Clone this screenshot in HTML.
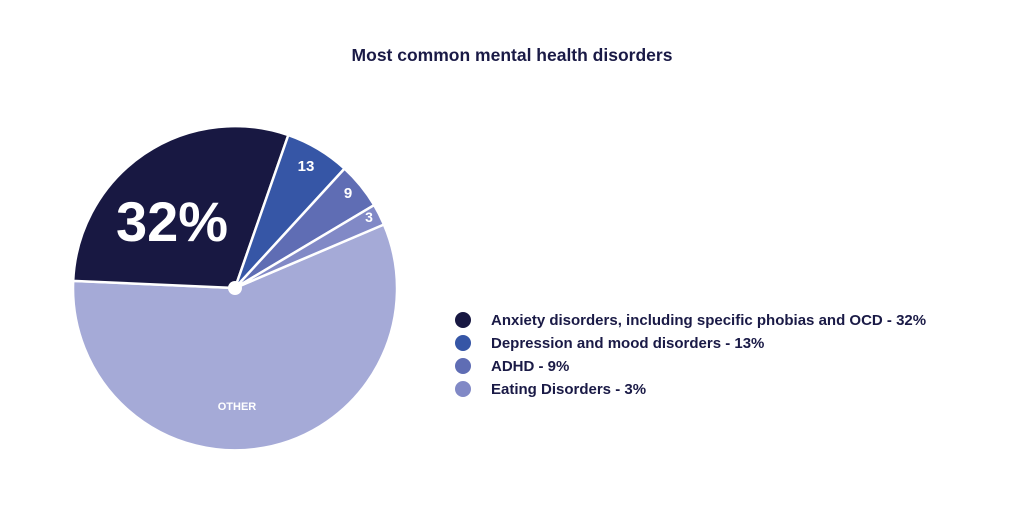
<!DOCTYPE html>
<html><head><style>
body{margin:0;width:1024px;height:518px;background:#fff;font-family:"Liberation Sans",sans-serif;overflow:hidden}
</style></head><body>
<svg width="1024" height="518" xmlns="http://www.w3.org/2000/svg">
<text x="512" y="61" text-anchor="middle" font-size="17.5" font-weight="bold" fill="#1a1a46">Most common mental health disorders</text>
<g stroke="#fff" stroke-width="2.5" stroke-linejoin="round">
<path d="M235,288 L383.9,224.5 A162,162 0 1 1 73.2,280.9 Z" fill="#a5aad7"/>
<path d="M235,288 L73.2,280.9 A162,162 0 0 1 288.3,135.1 Z" fill="#181842"/>
<path d="M235,288 L288.3,135.1 A162,162 0 0 1 344.5,168.6 Z" fill="#3656a6"/>
<path d="M235,288 L344.5,168.6 A162,162 0 0 1 374.2,205.1 Z" fill="#5f6db4"/>
<path d="M235,288 L374.2,205.1 A162,162 0 0 1 383.9,224.5 Z" fill="#8189c6"/>
</g>
<circle cx="235" cy="288" r="7" fill="#fff"/>
<text x="172" y="241" text-anchor="middle" font-size="56" font-weight="bold" fill="#fff">32%</text>
<text x="306" y="171" text-anchor="middle" font-size="15" font-weight="bold" fill="#fff">13</text>
<text x="348" y="198" text-anchor="middle" font-size="15" font-weight="bold" fill="#fff">9</text>
<text x="369" y="222" text-anchor="middle" font-size="14" font-weight="bold" fill="#fff">3</text>
<text x="237" y="410" text-anchor="middle" font-size="11" font-weight="bold" fill="#fff">OTHER</text>
<g font-size="15" font-weight="bold" fill="#1a1a46">
<circle cx="463" cy="320" r="8" fill="#181842"/>
<text x="491" y="325">Anxiety disorders, including specific phobias and OCD - 32%</text>
<circle cx="463" cy="343" r="8" fill="#3656a6"/>
<text x="491" y="348">Depression and mood disorders - 13%</text>
<circle cx="463" cy="366" r="8" fill="#5f6db4"/>
<text x="491" y="371">ADHD - 9%</text>
<circle cx="463" cy="389" r="8" fill="#8189c6"/>
<text x="491" y="394">Eating Disorders - 3%</text>
</g>
</svg>
</body></html>
